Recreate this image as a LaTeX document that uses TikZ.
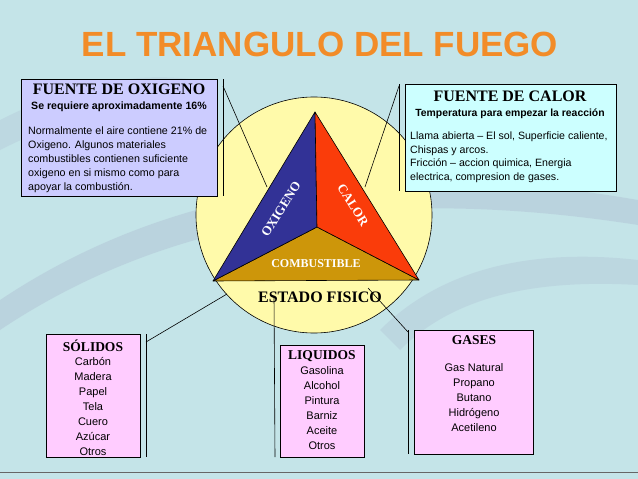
\documentclass[tikz,border=0pt]{standalone}
\usepackage{fontspec}
\setmainfont{Liberation Serif}
\newfontfamily\arial{Liberation Sans}
\begin{document}
\begin{tikzpicture}[x=1pt,y=-1pt,
  box/.style={draw=black,line width=0.8pt,anchor=north west,inner sep=0pt},
  body/.style={font=\arial\fontsize{10.7}{14}\selectfont,align=left,anchor=north west,inner sep=0pt},
  lst/.style={font=\arial\fontsize{11}{15}\selectfont,align=center,anchor=north,inner sep=0pt},
  hd/.style={font=\bfseries\fontsize{13.5}{15}\selectfont,anchor=north,inner sep=0pt},
  conn/.style={draw=black,line width=0.6pt},
  tri/.style={draw=black,line width=0.6pt,line join=round}]
\definecolor{bg}{RGB}{196,228,232}
\definecolor{band}{RGB}{178,196,214}
\definecolor{ttl}{RGB}{242,140,40}
\definecolor{circ}{RGB}{255,250,170}
\definecolor{oxy}{RGB}{50,50,150}
\definecolor{cal}{RGB}{250,60,10}
\definecolor{gold}{RGB}{205,150,10}
\definecolor{lav}{RGB}{204,204,255}
\definecolor{cyanb}{RGB}{204,255,255}
\definecolor{pink}{RGB}{255,204,255}
\useasboundingbox (0,0) rectangle (638,479);
\fill[bg] (0,0) rectangle (638,479);
\fill[band,opacity=0.5] (0,300) .. controls (150,200) and (350,150) .. (638,200) -- (638,225) .. controls (350,180) and (150,230) .. (0,330) -- cycle;
\fill[band,opacity=0.4] (380,330) .. controls (450,260) and (550,250) .. (638,260) -- (638,285) .. controls (550,280) and (460,290) .. (400,350) -- cycle;
\fill[band,opacity=0.35] (0,120) .. controls (60,90) and (120,70) .. (200,80) -- (200,110) .. controls (120,100) and (60,120) .. (0,150) -- cycle;
\draw[black!60,line width=0.6pt] (0,472) -- (638,472);
\node[font=\arial\bfseries\fontsize{35}{38}\selectfont,text=ttl] (title) at (320,44) {EL TRIANGULO DEL FUEGO};
% circle and triangle
\fill[circ,draw=black,line width=0.6pt] (314,215) circle (118);
\coordinate (A) at (315,112);
\coordinate (L) at (213,281);
\coordinate (R) at (419,280);
\coordinate (C) at (317,227);
\filldraw[tri,fill=gold] (L) -- (C) -- (R) -- cycle;
\filldraw[tri,fill=oxy] (A) -- (C) -- (L) -- cycle;
\filldraw[tri,fill=cal] (A) -- (R) -- (C) -- cycle;
\node[text=white,font=\bfseries\fontsize{13}{14}\selectfont,rotate=58] (ox) at (281,209) {OXIGENO};
\node[text=white,font=\bfseries\fontsize{13}{14}\selectfont,rotate=-58] (ca) at (353,205) {CALOR};
\node[text=white,font=\bfseries\fontsize{12}{13}\selectfont] (co) at (316,264) {COMBUSTIBLE};
\node[font=\bfseries\fontsize{16}{17}\selectfont] (ef) at (320,297) {ESTADO FISICO};
% top left box
\node[box,fill=lav,minimum width=196,minimum height=117] (ob) at (21,79) {};
\node[hd,font=\bfseries\fontsize{16}{17}\selectfont] (obh) at (119,84) {FUENTE DE OXIGENO};
\node[font=\arial\bfseries\fontsize{10.6}{12}\selectfont,anchor=north,inner sep=0pt] (obs) at (119,102) {Se requiere aproximadamente 16\%};
\node[body] (obt) at (28,127) {Normalmente el aire contiene 21\% de\\Oxigeno. Algunos materiales\\combustibles contienen suficiente\\oxigeno en si mismo como para\\apoyar la combustión.};
\coordinate (ol1) at (223,79); \coordinate (ol2) at (223,196);
\draw[conn] (ol1) -- (ol2);
\coordinate (oc1) at (223,86); \coordinate (oc2) at (267,187);
\draw[conn] (oc1) -- (oc2);
% top right box
\node[box,fill=cyanb,minimum width=211,minimum height=107] (cb) at (405,84) {};
\node[hd,font=\bfseries\fontsize{16}{17}\selectfont] (cbh) at (510,91) {FUENTE DE CALOR};
\node[font=\arial\bfseries\fontsize{10.4}{12}\selectfont,anchor=north,inner sep=0pt] (cbs) at (510,109) {Temperatura para empezar la reacción};
\node[body,font=\arial\fontsize{10.6}{13.5}\selectfont] (cbt) at (410,132) {Llama abierta – El sol, Superficie caliente,\\Chispas y arcos.\\Fricción – accion quimica, Energia\\electrica, compresion de gases.};
\coordinate (cl1) at (399,84); \coordinate (cl2) at (399,191);
\draw[conn] (cl1) -- (cl2);
\coordinate (cc1) at (399,86); \coordinate (cc2) at (365,187);
\draw[conn] (cc1) -- (cc2);
% solidos
\node[box,fill=pink,minimum width=94,minimum height=123] (sb) at (46,334) {};
\node[hd] (sbh) at (93,340) {SÓLIDOS};
\node[lst] (sbt) at (93,357) {Carbón\\Madera\\Papel\\Tela\\Cuero\\Azúcar\\Otros};
\coordinate (sl1) at (146,334); \coordinate (sl2) at (146,457);
\draw[conn] (sl1) -- (sl2);
\coordinate (sc1) at (146,342); \coordinate (sc2) at (227,294);
\draw[conn] (sc1) -- (sc2);
% liquidos
\node[box,fill=pink,minimum width=84,minimum height=112] (lb) at (280,345) {};
\node[hd] (lbh) at (322,350) {LIQUIDOS};
\node[lst] (lbt) at (322,366) {Gasolina\\Alcohol\\Pintura\\Barniz\\Aceite\\Otros};
\coordinate (ll1) at (274,296); \coordinate (ll2) at (275,457);
\draw[conn] (ll1) -- (ll2);
% gases
\node[box,fill=pink,minimum width=119,minimum height=124] (gb) at (414,330) {};
\node[hd] (gbh) at (474,335) {GASES};
\node[lst] (gbt) at (474,363) {Gas Natural\\Propano\\Butano\\Hidrógeno\\Acetileno};
\coordinate (gl1) at (408,330); \coordinate (gl2) at (408,454);
\draw[conn] (gl1) -- (gl2);
\coordinate (gc1) at (408,332); \coordinate (gc2) at (368,288);
\draw[conn] (gc1) -- (gc2);
\end{tikzpicture}
\end{document}
